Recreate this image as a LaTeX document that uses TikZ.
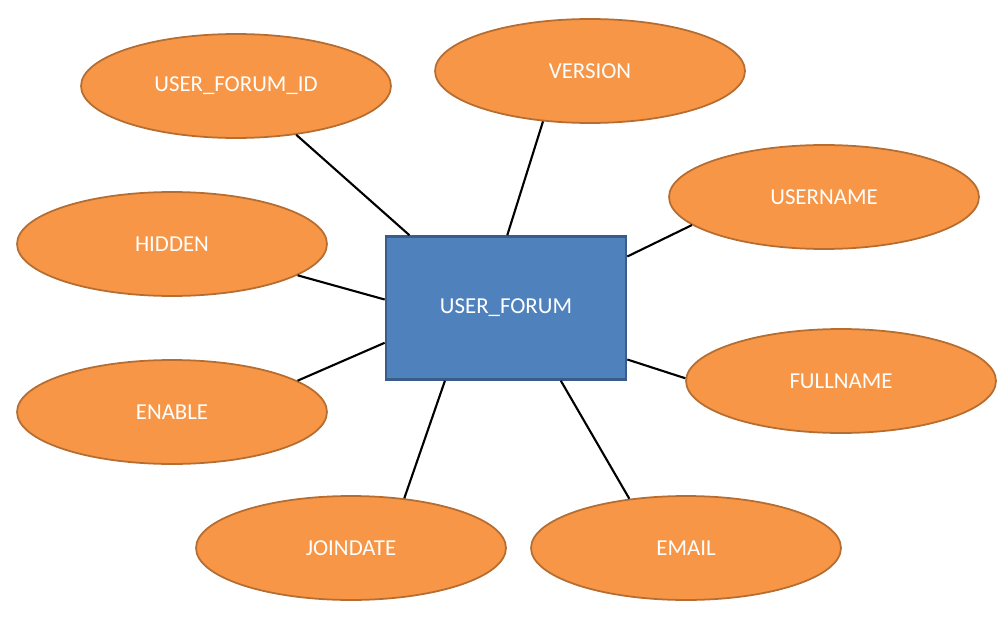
\documentclass[tikz,border=0pt]{standalone}
\usepackage{fontspec}
\setmainfont{Carlito}
\usetikzlibrary{shapes.geometric}
\definecolor{attrfill}{HTML}{F79646}
\definecolor{attrdraw}{HTML}{B66D31}
\definecolor{entfill}{HTML}{4F81BD}
\definecolor{entdraw}{HTML}{385D8A}
\begin{document}
\begin{tikzpicture}[x=0.02cm,y=-0.02cm,
	attr/.style={shape=ellipse,draw=attrdraw,fill=attrfill,line width=1pt,minimum width=6.2cm,minimum height=2.08cm,inner sep=0pt,text=white,font=\fontsize{13}{15}\selectfont},
	entity/.style={shape=rectangle,draw=entdraw,fill=entfill,line width=1.5pt,minimum width=4.8cm,minimum height=2.86cm,text=white,font=\fontsize{13}{15}\selectfont}]
	
	\useasboundingbox (0,0) rectangle (1004,625);
	
	\node[entity] (uf) at (506, 308) {USER\_FORUM};
	\node[attr] (id) at (236, 86)   {USER\_FORUM\_ID};
	\node[attr] (ver) at (590, 71)  {VERSION};
	\node[attr] (un) at (824, 197)  {USERNAME};
	\node[attr] (hid) at (172, 244) {HIDDEN};
	\node[attr] (fn) at (841, 381)  {FULLNAME};
	\node[attr] (en) at (172, 412)  {ENABLE};
	\node[attr] (jd) at (351, 548)  {JOINDATE};
	\node[attr] (em) at (686, 548)  {EMAIL};
	
	\path[-, line width=1.2pt] (id.-39) edge (uf.143);
	\path[-, line width=1.2pt] (ver.-133) edge (uf.89);
	\path[-, line width=1.2pt] (un.-168) edge (uf.23);
	\path[-, line width=1.2pt] (hid.-14) edge (uf.176);
	\path[-, line width=1.2pt] (fn.179) edge (uf.-23);
	\path[-, line width=1.2pt] (en.14) edge (uf.-164);
	\path[-, line width=1.2pt] (jd.43) edge (uf.-130);
	\path[-, line width=1.2pt] (em.139) edge (uf.-53);

\end{tikzpicture}
\end{document}
